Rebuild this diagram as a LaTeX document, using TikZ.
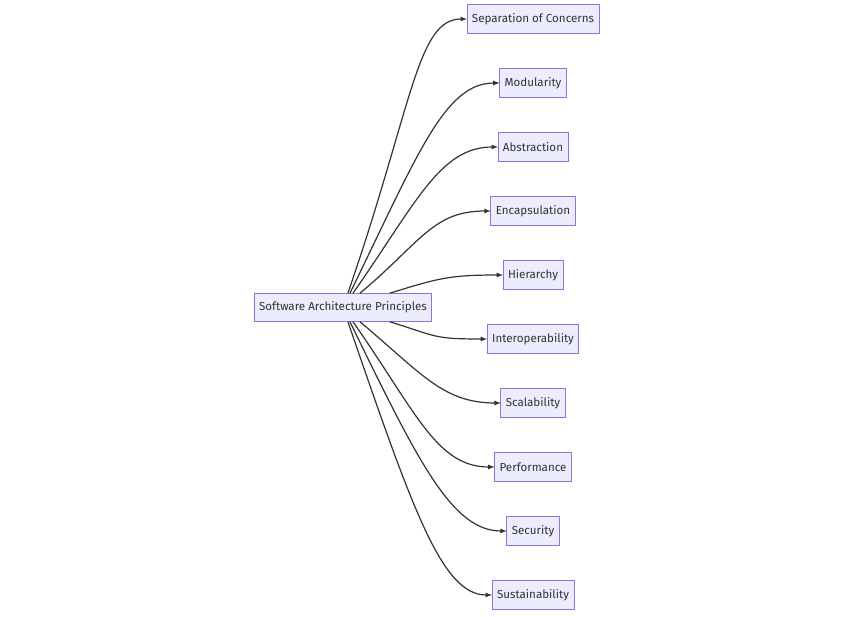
\documentclass[tikz,border=0pt]{standalone}
\usepackage{fontspec}
\setmainfont{Fira Sans}
\usepackage{tikz}
\usepackage{tkz-graph}

\definecolor{boxfill}{HTML}{ECECFF}
\definecolor{boxline}{HTML}{9370DB}
\definecolor{edgeline}{HTML}{333333}

\begin{document}
\begin{tikzpicture}
		\useasboundingbox (0pt,0pt) rectangle (852pt,-617pt);
		\GraphInit[vstyle=Normal]
		\tikzset{VertexStyle/.style={rectangle,draw=boxline,fill=boxfill,line width=0.9pt,
				inner xsep=5pt,inner ysep=0pt,minimum height=28.5pt,text=edgeline,
				font=\fontsize{11.6}{13}\selectfont}}
		\SetGraphUnit{2.2493}
		
		% Set up the vertices (root and principles)
		\Vertex[x=12.055,y=-10.807,L={Software Architecture Principles}]{Root}
		\Vertex[x=18.733,y=-0.668,L={Separation of Concerns}]{SoC}
		\SO[L=Modularity](SoC){Mod}
		\SO[L=Abstraction](Mod){Abs}
		\SO[L=Encapsulation](Abs){Enc}
		\SO[L=Hierarchy](Enc){Hie}
		\SO[L=Interoperability](Hie){Int}
		\SO[L=Scalability](Int){Sca}
		\SO[L=Performance](Sca){Per}
		\SO[L=Security](Per){Sec}
		\SO[L=Sustainability](Sec){Sus}
		
		% Add the arrows
		\SetUpEdge[lw=1.2pt,color=edgeline,style={-latex}]
		\Edge[style={-latex,out=71,in=180,out distance=200pt,in distance=50pt}](Root)(SoC)
		\Edge[style={-latex,out=64,in=180,out distance=155pt,in distance=55pt}](Root)(Mod)
		\Edge[style={-latex,out=55,in=180,out distance=110pt,in distance=58pt}](Root)(Abs)
		\Edge[style={-latex,out=40,in=180,out distance=80pt,in distance=58pt}](Root)(Enc)
		\Edge[style={-latex,out=17,in=180,out distance=50pt,in distance=55pt}](Root)(Hie)
		\Edge[style={-latex,out=-17,in=180,out distance=50pt,in distance=55pt}](Root)(Int)
		\Edge[style={-latex,out=-40,in=180,out distance=80pt,in distance=58pt}](Root)(Sca)
		\Edge[style={-latex,out=-55,in=180,out distance=110pt,in distance=58pt}](Root)(Per)
		\Edge[style={-latex,out=-64,in=180,out distance=155pt,in distance=55pt}](Root)(Sec)
		\Edge[style={-latex,out=-71,in=180,out distance=200pt,in distance=50pt}](Root)(Sus)
	\end{tikzpicture}
\end{document}
